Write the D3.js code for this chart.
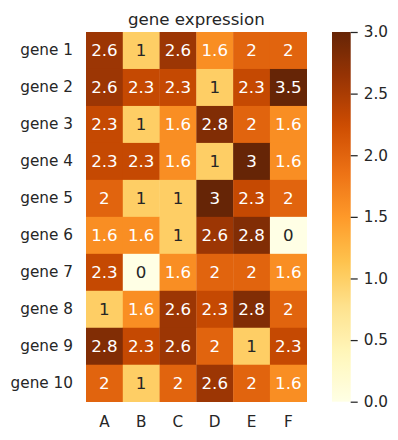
<!DOCTYPE html>
<html>
<head>
<meta charset="utf-8">
<script src="https://cdn.jsdelivr.net/npm/d3@7"></script>
<style>
  body { margin: 0; background: #fff; }
  text { font-family: "DejaVu Sans", sans-serif; }
</style>
</head>
<body>
<div id="chart"></div>
<script>
const width = 398;
const height = 440;

const genes = ["gene 1", "gene 2", "gene 3", "gene 4", "gene 5",
    "gene 6", "gene 7", "gene 8", "gene 9", "gene 10"];
const samples = ["A", "B", "C", "D", "E", "F"];
const values = [
    [2.6, 1, 2.6, 1.6, 2, 2],
    [2.6, 2.3, 2.3, 1, 2.3, 3.5],
    [2.3, 1, 1.6, 2.8, 2, 1.6],
    [2.3, 2.3, 1.6, 1, 3, 1.6],
    [2, 1, 1, 3, 2.3, 2],
    [1.6, 1.6, 1, 2.6, 2.8, 0],
    [2.3, 0, 1.6, 2, 2, 1.6],
    [1, 1.6, 2.6, 2.3, 2.8, 2],
    [2.8, 2.3, 2.6, 2, 1, 2.3],
    [2, 1, 2, 2.6, 2, 1.6]
];
const colorTicks = [0, 0.5, 1, 1.5, 2, 2.5, 3];
const ylorbr = ["#ffffe5", "#fff7bc", "#fee391", "#fec44f", "#fe9929",
    "#ec7014", "#cc4c02", "#993404", "#662506"];

const svg = d3.select("#chart")
    .append("svg")
    .attr("width", width)
    .attr("height", height);

const mLeft = 86, mRight = 306.7, mTop = 32, mBottom = 401.7;

const x = d3.scaleBand().domain(samples).range([mLeft, mRight]);
const y = d3.scaleBand().domain(genes).range([mTop, mBottom]);

const vmin = 0, vmax = 3;
const color = d3.scaleLinear()
    .domain(ylorbr.map((c, i) => vmin + (vmax - vmin) * i / (ylorbr.length - 1)))
    .range(ylorbr)
    .interpolate(d3.interpolateRgb)
    .clamp(true);

const cells = [];
values.forEach((row, i) => row.forEach((v, j) => cells.push({ gene: genes[i], sample: samples[j], v })));

// seaborn picks dark or white annotation text from the cell luminance
function textColor(c) {
    const rgb = d3.rgb(c);
    const lin = [rgb.r, rgb.g, rgb.b].map(u => {
        u /= 255;
        return u <= 0.03928 ? u / 12.92 : Math.pow((u + 0.055) / 1.055, 2.4);
    });
    const lum = 0.2126 * lin[0] + 0.7152 * lin[1] + 0.0722 * lin[2];
    return lum > 0.408 ? "#262626" : "#ffffff";
}

svg.append("g")
    .selectAll("rect")
    .data(cells)
    .enter().append("rect")
    .attr("x", d => x(d.sample))
    .attr("y", d => y(d.gene))
    .attr("width", x.bandwidth() + 0.3)
    .attr("height", y.bandwidth() + 0.3)
    .attr("fill", d => color(d.v));

svg.append("g")
    .selectAll("text")
    .data(cells)
    .enter().append("text")
    .attr("x", d => x(d.sample) + x.bandwidth() / 2)
    .attr("y", d => y(d.gene) + y.bandwidth() / 2)
    .attr("text-anchor", "middle")
    .attr("dominant-baseline", "central")
    .attr("font-size", "16.67px")
    .attr("fill", d => textColor(color(d.v)))
    .text(d => d3.format("")(d.v));

// axes labels, no tick marks
svg.append("g")
    .selectAll("text")
    .data(genes)
    .enter().append("text")
    .attr("x", 73)
    .attr("y", d => y(d) + y.bandwidth() / 2)
    .attr("text-anchor", "end")
    .attr("dominant-baseline", "central")
    .attr("font-size", "15.28px")
    .attr("fill", "#262626")
    .text(d => d);

svg.append("g")
    .selectAll("text")
    .data(samples)
    .enter().append("text")
    .attr("x", d => x(d) + x.bandwidth() / 2)
    .attr("y", 427)
    .attr("text-anchor", "middle")
    .attr("font-size", "15.28px")
    .attr("fill", "#262626")
    .text(d => d);

svg.append("text")
    .attr("x", (mLeft + mRight) / 2)
    .attr("y", 25)
    .attr("text-anchor", "middle")
    .attr("font-size", "16.67px")
    .attr("fill", "#262626")
    .text("gene expression");

// colorbar
const cbLeft = 332, cbRight = 350.7;
const cy = d3.scaleLinear().domain([vmin, vmax]).range([mBottom, mTop]);

const grad = svg.append("defs").append("linearGradient")
    .attr("id", "cbar")
    .attr("x1", 0).attr("y1", 1).attr("x2", 0).attr("y2", 0);
grad.selectAll("stop")
    .data(d3.range(0, 1.0001, 0.02))
    .enter().append("stop")
    .attr("offset", d => d)
    .attr("stop-color", d => color(vmin + d * (vmax - vmin)));

svg.append("rect")
    .attr("x", cbLeft)
    .attr("y", mTop)
    .attr("width", cbRight - cbLeft)
    .attr("height", mBottom - mTop)
    .attr("fill", "url(#cbar)");

const cAxis = svg.append("g")
    .attr("transform", `translate(${cbRight}, 0)`)
    .call(d3.axisRight(cy).tickValues(colorTicks).tickFormat(d3.format(".1f")).tickSize(7).tickPadding(6));
cAxis.select(".domain").remove();
cAxis.selectAll("line").attr("stroke", "#262626").attr("stroke-width", 1.25);
cAxis.selectAll("text")
    .attr("font-family", "DejaVu Sans, sans-serif")
    .attr("font-size", "15.28px")
    .attr("fill", "#262626");
</script>
</body>
</html>
